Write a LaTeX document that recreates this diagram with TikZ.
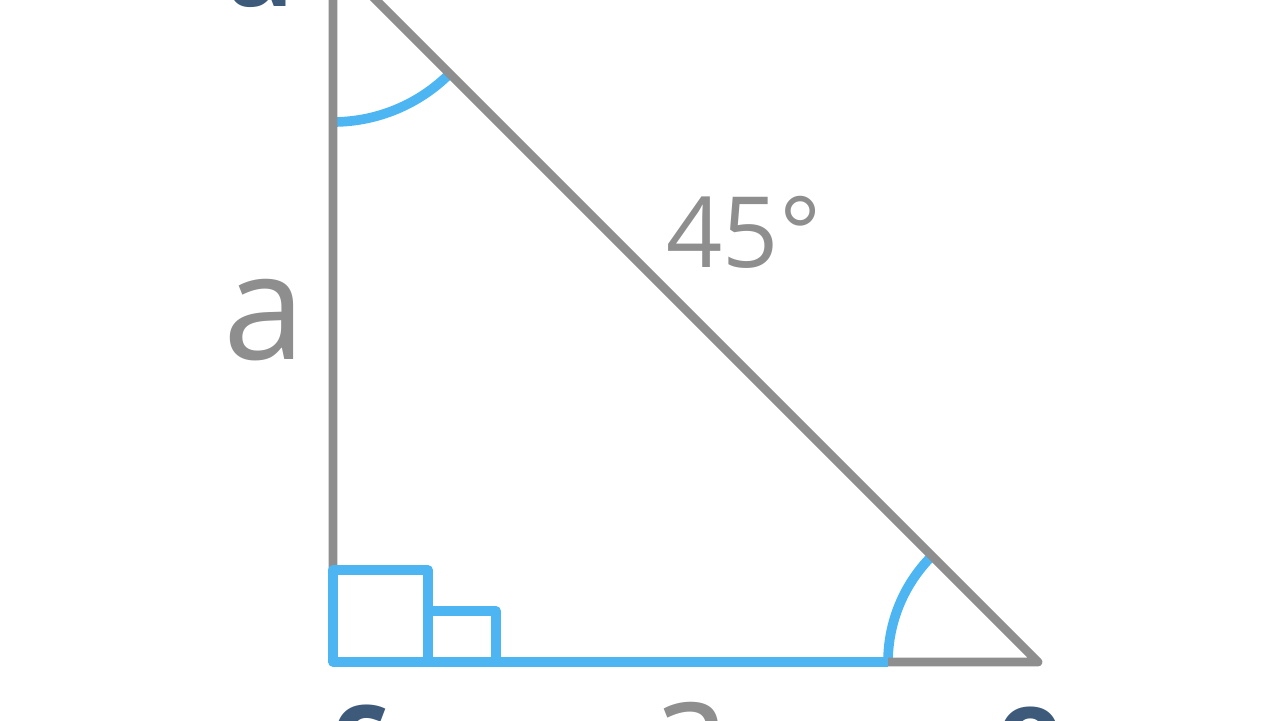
\documentclass[tikz,border=0pt]{standalone}
\usepackage{fontspec}
\setmainfont{Open Sans}
\definecolor{sidegray}{HTML}{8E8E8E}
\definecolor{markblue}{HTML}{4DB6F2}
\definecolor{vertblue}{HTML}{3D5A7A}

\begin{document}
\begin{tikzpicture}
        [x=0.02cm, y=0.02cm,
        side/.style={draw=sidegray, line width=5pt, line join=round},
        anglemark/.style={draw=markblue, line width=5.5pt, line join=round},
        sidelabel/.style={text=sidegray, inner sep=0pt, font=\fontsize{84}{90}\selectfont},
        vertlabel/.style={text=vertblue, inner sep=0pt, font=\bfseries\fontsize{64}{70}\selectfont}]
        \useasboundingbox (0,0) rectangle (1280,720);
        \coordinate (t) at (333,763);
        \coordinate (l) at (333,58);
        \coordinate (r) at (1038,58);
        % angle arcs
        \draw[anglemark] (t) ++(270:165) arc[start angle=270, end angle=315, radius=165];
        \draw[anglemark] (r) ++(180:150) coordinate (s) arc[start angle=180, end angle=135, radius=150];
        % sides
        \draw[side] (t) -- (l) -- (r) -- cycle;
        % right angle
        \draw[anglemark] (l) rectangle (428,150);
        \draw[anglemark] (428,58) rectangle (496,109);
        \draw[anglemark] (l) -- (s);
        % labels
        \node (sa) at (265,400) [sidelabel] {a};
        \node (sb) at (690,18) [sidelabel, anchor=north] {a};
        \node (deg) at (744,488) [sidelabel, font=\fontsize{56}{60}\selectfont] {45°};
        \node (vt) at (260,712) [vertlabel, anchor=south] {a};
        \node (vl) at (360,15) [vertlabel, anchor=north] {c};
        \node (vr) at (1030,13) [vertlabel, anchor=north] {e};
\end{tikzpicture}
\end{document}
